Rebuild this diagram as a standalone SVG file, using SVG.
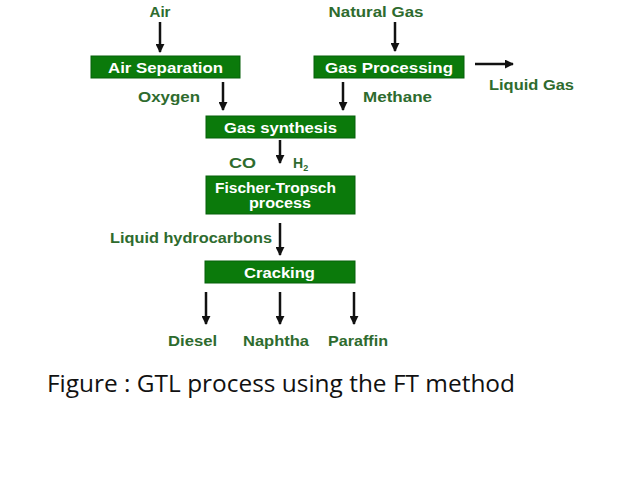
<svg xmlns="http://www.w3.org/2000/svg" width="638" height="478" viewBox="0 0 638 478">
<style>
.box{fill:#0b7a0b;stroke:#06600a;stroke-width:1}
.bt{font-family:"Liberation Sans",Arial,sans-serif;font-weight:bold;font-size:14px;fill:#ffffff}
.lb{font-family:"Liberation Sans",Arial,sans-serif;font-weight:bold;font-size:14px;fill:#2e6b2e}
.cap{font-family:"Open Sans","Liberation Sans",sans-serif;font-size:24px;fill:#111111}
.ar{stroke:#111111;stroke-width:2.5;fill:none;marker-end:url(#ah)}
</style>
<defs>
<marker id="ah" viewBox="0 0 10 10" refX="9" refY="5" markerWidth="3.6" markerHeight="3.6" orient="auto" markerUnits="strokeWidth">
<path d="M0,0 L10,5 L0,10 z" fill="#111111"/>
</marker>
</defs>
<rect width="638" height="478" fill="#ffffff"/>
<g id="labels">
<text class="lb" x="160" y="17" text-anchor="middle" textLength="21" lengthAdjust="spacingAndGlyphs">Air</text>
<text class="lb" x="376" y="17" text-anchor="middle" textLength="95" lengthAdjust="spacingAndGlyphs">Natural Gas</text>
<text class="lb" x="138" y="102" textLength="62" lengthAdjust="spacingAndGlyphs">Oxygen</text>
<text class="lb" x="363" y="102" textLength="69" lengthAdjust="spacingAndGlyphs">Methane</text>
<text class="lb" x="489" y="90" textLength="85" lengthAdjust="spacingAndGlyphs">Liquid Gas</text>
<text class="lb" x="229" y="168" textLength="27" lengthAdjust="spacingAndGlyphs">CO</text>
<text class="lb" x="293" y="168">H<tspan font-size="9" dy="3">2</tspan></text>
<text class="lb" x="110" y="243" textLength="162" lengthAdjust="spacingAndGlyphs">Liquid hydrocarbons</text>
<text class="lb" x="168" y="346" textLength="49" lengthAdjust="spacingAndGlyphs">Diesel</text>
<text class="lb" x="243" y="346" textLength="66" lengthAdjust="spacingAndGlyphs">Naphtha</text>
<text class="lb" x="328" y="346" textLength="60" lengthAdjust="spacingAndGlyphs">Paraffin</text>
</g>
<g id="air-separation">
<rect class="box" x="91" y="56" width="149" height="22"/>
<text class="bt" x="165.5" y="73" text-anchor="middle" textLength="115" lengthAdjust="spacingAndGlyphs">Air Separation</text>
</g>
<g id="gas-processing">
<rect class="box" x="314" y="56" width="150" height="22"/>
<text class="bt" x="389" y="73" text-anchor="middle" textLength="128" lengthAdjust="spacingAndGlyphs">Gas Processing</text>
</g>
<g id="gas-synthesis">
<rect class="box" x="206" y="116" width="149" height="22"/>
<text class="bt" x="280.5" y="133" text-anchor="middle" textLength="113" lengthAdjust="spacingAndGlyphs">Gas synthesis</text>
</g>
<g id="fischer-tropsch">
<rect class="box" x="206" y="176" width="149" height="38"/>
<text class="bt" x="275.5" y="193" text-anchor="middle" textLength="121" lengthAdjust="spacingAndGlyphs">Fischer-Tropsch</text>
<text class="bt" x="280" y="208" text-anchor="middle" textLength="62" lengthAdjust="spacingAndGlyphs">process</text>
</g>
<g id="cracking">
<rect class="box" x="205" y="261" width="150" height="22"/>
<text class="bt" x="279.5" y="278" text-anchor="middle" textLength="71" lengthAdjust="spacingAndGlyphs">Cracking</text>
</g>
<g id="connectors">
<line class="ar" x1="160" y1="22" x2="160" y2="52"/>
<line class="ar" x1="395" y1="22" x2="395" y2="51"/>
<line class="ar" x1="223" y1="82" x2="223" y2="110"/>
<line class="ar" x1="343" y1="82" x2="343" y2="110"/>
<line class="ar" x1="475" y1="64" x2="513" y2="64"/>
<line class="ar" x1="280" y1="140" x2="280" y2="163"/>
<line class="ar" x1="280" y1="223" x2="280" y2="255"/>
<line class="ar" x1="206" y1="292" x2="206" y2="324"/>
<line class="ar" x1="280" y1="292" x2="280" y2="324"/>
<line class="ar" x1="354" y1="292" x2="354" y2="324"/>
</g>
<text class="cap" x="47" y="392" textLength="468" lengthAdjust="spacingAndGlyphs">Figure : GTL process using the FT method</text>
</svg>
